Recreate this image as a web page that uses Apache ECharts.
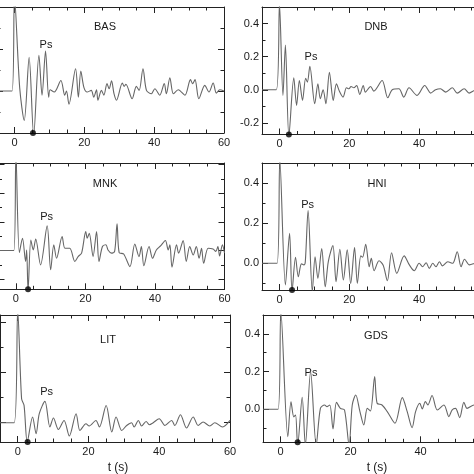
<!DOCTYPE html>
<html><head><meta charset="utf-8">
<script src="https://cdn.jsdelivr.net/npm/echarts@6/dist/echarts.min.js"></script>
<style>html,body{margin:0;padding:0;background:#fff}#c{width:474px;height:474px}</style>
</head><body><div id="c"></div>
<script>
// ---- data (t in s, amplitude) ----
const stationNames = ['BAS','DNB','MNK','HNI','LIT','GDS'];
const xTickLabels = [0,20,40,60];
const basTrace = [[-5,0],[-0.7,0],[0,0.45],[1.5,0.015],[2.8,-0.14],[4.2,0.16],[5.5,-0.21],[7.0,0.17],[7.9,-0.02],[8.9,0.19],[9.8,-0.03],[10.2,0.006],[11.4,-0.005],[13.3,0.05],[14.4,-0.02],[14.9,0],[15.6,-0.063],[17.5,0.106],[18.3,-0.03],[19.0,0.095],[19.9,0.016],[20.8,-0.005],[22.0,0.003],[22.7,-0.03],[23.5,0.006],[23.9,-0.044],[24.9,0.003],[25.6,-0.02],[26.5,0.035],[27.1,0.011],[27.8,0.048],[28.5,-0.013],[29.2,-0.044],[30.9,0.038],[31.4,0.022],[31.9,0.032],[33.7,-0.037],[34.9,0.022],[35.7,0.003],[36.8,0.106],[37.8,0.003],[39.2,-0.013],[40.2,0.011],[41.6,-0.02],[42.9,0.035],[43.5,-0.013],[44.5,0.063],[45.5,-0.013],[46.9,0.006],[48.8,-0.02],[50.4,0.054],[51.0,0.035],[51.7,0.054],[52.8,-0.037],[54.5,0.027],[55.7,-0.005],[56.9,0.038],[57.8,-0.01],[58.8,0.006],[60,0]];
const dnbTrace = [[-5,0],[-0.9,0],[0,0.52],[1.0,-0.034],[1.7,0.27],[2.7,-0.28],[4.1,0.072],[4.9,-0.094],[5.7,0.056],[6.6,-0.064],[7.5,0.07],[8.0,0.046],[8.7,0.142],[10.1,-0.084],[11.0,0.036],[11.7,-0.054],[12.5,0.0],[13.3,-0.084],[14.3,0.106],[15.4,-0.064],[16.3,0.036],[17.2,-0.01],[18.2,-0.044],[19.2,0.012],[19.9,0.006],[20.5,0.02],[21.3,0.012],[22.1,0.026],[23.0,-0.028],[24.0,0.026],[24.6,-0.014],[26.1,0.02],[27.0,-0.008],[29.4,0.056],[31.0,-0.048],[32.3,0],[34.2,0.006],[35.6,-0.044],[37.1,0.012],[39.4,-0.034],[41.6,0.026],[43.3,-0.02],[44.7,0],[46.1,0.006],[47.6,-0.014],[49.5,0.012],[50.9,-0.02],[52.9,0.006],[54.3,-0.02],[55.8,-0.004],[57.5,0.01],[60,0]];
const mnkTrace = [[-5,0],[-0.6,0],[0,0.34],[1.0,-0.007],[1.9,0.043],[2.8,-0.038],[3.1,0.002],[3.5,-0.14],[4.3,0.037],[5.0,0.002],[5.7,0.04],[7.1,-0.05],[9.0,0.086],[10.0,-0.067],[10.9,0.02],[11.7,-0.027],[13.3,0.049],[14.1,0.008],[15.5,0.008],[16.95,-0.038],[17.9,-0.021],[18.9,-0.009],[20.1,0.066],[20.5,0.043],[21.1,0.06],[22.2,-0.021],[23.2,0.066],[23.9,-0.038],[24.9,0.014],[25.9,0.02],[26.5,0.002],[27.5,-0.009],[28.4,-0.003],[29.1,0.093],[29.7,-0.007],[31.0,-0.012],[32.8,-0.056],[34.2,0.023],[35.4,-0.021],[36.1,0.014],[36.8,-0.053],[38.3,0.014],[39.3,-0.027],[40.4,0.002],[41.6,0.016],[43.0,0.035],[43.8,0.002],[44.3,0.02],[44.9,-0.058],[46.2,0.02],[46.8,-0.009],[48.1,0.035],[49.0,-0.038],[50.0,0.014],[51.0,-0.015],[51.9,0.014],[52.7,-0.027],[53.4,0.008],[54.0,-0.044],[55.3,0.008],[56.7,0.005],[57.5,-0.003],[58.1,0.014],[58.6,-0.019],[59.4,0.02],[60,-0.009]];
const hniTrace = [[-5,0],[-0.7,0],[0.1,0.52],[1.7,-0.108],[2.9,0.15],[3.6,-0.14],[4.6,0.03],[5.4,-0.067],[6.3,-0.003],[7.0,-0.008],[7.4,0.008],[8.2,0.263],[9.4,-0.14],[10.2,0.033],[11.0,-0.075],[12.1,0.073],[13.1,-0.117],[14.0,0.01],[15.3,0.088],[16.2,-0.092],[17.3,0.07],[18.3,-0.083],[19.4,0.067],[20.4,-0.1],[21.5,0.078],[22.3,-0.1],[23.3,0.037],[23.8,0.03],[24.7,0.095],[25.7,-0.017],[26.3,0.025],[27.1,-0.037],[28.5,0.013],[29.7,-0.01],[30.9,-0.087],[32.1,0.053],[33.6,-0.05],[35.7,0.037],[37.2,-0.008],[38.6,-0.037],[40.0,0],[41.0,-0.017],[42.0,0.003],[42.9,-0.025],[43.9,0],[44.8,-0.017],[45.8,0.008],[46.7,-0.013],[48.2,0.008],[49.6,0],[50.9,0.058],[52.0,-0.017],[53.0,0.02],[54.4,-0.008],[55.9,0],[57.5,0.01],[60,0]];
const litTrace = [[-5,0],[-1.0,0],[0,0.45],[1.1,0.096],[1.8,0.069],[2.7,-0.077],[4.2,0.023],[5.2,-0.044],[6.1,0.036],[7.7,0.085],[9.1,-0.017],[10.1,0.019],[11.5,-0.027],[13.1,0.009],[14.6,-0.053],[16.5,0.036],[17.6,-0.031],[19.3,-0.004],[20.2,-0.013],[22.1,0.009],[23.1,-0.017],[25.0,0.069],[26.6,-0.037],[27.8,0.023],[29.4,-0.031],[30.8,-0.011],[32.2,0],[32.9,-0.017],[34.1,0.009],[35.0,-0.013],[36.3,0.005],[37.2,-0.008],[38.3,0],[40.0,0.016],[41.6,-0.011],[43.5,0.009],[44.4,-0.011],[46.0,0.032],[47.7,-0.021],[49.6,0.023],[51.0,-0.011],[52.4,0.003],[54.3,-0.013],[55.7,0],[57.9,-0.017],[60,0.009]];
const gdsTrace = [[-5,0],[-0.7,0],[0.1,0.52],[2.1,-0.145],[3.0,0.04],[3.8,-0.04],[4.3,-0.03],[4.9,-0.19],[6.2,0.064],[7.1,-0.19],[8.6,0.2],[10.2,-0.19],[11.4,0.005],[12.6,0.023],[13.3,0.014],[14.1,0.023],[15.0,-0.104],[16.0,0.037],[17.1,0.005],[18.3,-0.004],[19.6,-0.19],[20.5,0.023],[21.5,0.076],[22.7,-0.012],[23.8,-0.083],[24.8,0.005],[25.7,-0.009],[26.9,0.173],[27.6,0.032],[29.0,0.023],[30.5,-0.012],[32.7,-0.074],[34.8,0.062],[36.2,-0.012],[37.6,-0.097],[38.6,-0.012],[39.8,0.032],[40.5,0.002],[41.4,0.041],[42.1,0.023],[43.3,0.073],[44.8,-0.004],[46.7,0.023],[48.1,-0.039],[49.0,-0.004],[50.0,0.005],[51.2,-0.044],[52.4,0.037],[53.3,0.005],[55.3,0.023],[57,0.0],[60,0.01]];
const dotTimes = [5.3, 2.7, 3.5, 3.6, 2.8, 4.9];
const yMins = [-0.2, -0.27, -0.135, -0.133, -0.077, -0.175];
const yMaxs = [0.4, 0.5, 0.305, 0.5, 0.43, 0.5];
const yMajorTicks = [[-0.2,0,0.2,0.4],[-0.2,0,0.2,0.4],[-0.1,0,0.1,0.2,0.3],[0,0.2,0.4],[0,0.2,0.4],[0,0.2,0.4]];
const yMinorTicks = [[-0.1,0.1,0.3],[-0.1,0.1,0.3],[-0.05,0.05,0.15,0.25],[-0.1,0.1,0.3,0.5],[0.1,0.3],[-0.1,0.1,0.3,0.5]];
const yLabelValues = [[],[-0.2,0,0.2,0.4],[],[0,0.2,0.4],[],[0,0.2,0.4]];
const traces = [basTrace, dnbTrace, mnkTrace, hniTrace, litTrace, gdsTrace];

// ---- layout ----
const gridRects = [
  {left:-3, top:7, width:227, height:126},
  {left:262, top:7, width:227, height:127.5},
  {left:-1.5, top:163, width:226, height:126.3},
  {left:262, top:163, width:227, height:127},
  {left:0, top:315, width:230, height:127},
  {left:263, top:315, width:227.5, height:127.3}
];
const namePos = [[105,27],[376,27],[105,183.5],[377,183.5],[108,340],[376,336]];
const psPos = [[46,45],[311,57.3],[46.7,216.7],[307.7,205],[46.7,392.3],[311,373.3]];
const FONT = '"Liberation Sans", Arial, Helvetica, sans-serif';
const AX = '#222';
const minorX = []; for (let v=-5; v<=60; v+=5) if (xTickLabels.indexOf(v)<0) minorX.push(v);

const grid=[], xAxis=[], yAxis=[], series=[], graphic=[];
stationNames.forEach((nm,i)=>{
  grid.push(Object.assign({outerBoundsMode:'none', containLabel:false}, gridRects[i]));
  const xb = {type:'value', gridIndex:i, min:-5, max:60, splitLine:{show:false}};
  const xLine = {show:true, onZero:false, lineStyle:{color:AX, width:1}};
  xAxis.push(Object.assign({}, xb, {position:'bottom', axisLine:xLine,
    axisTick:{inside:true, length:6, customValues:xTickLabels, lineStyle:{color:AX}},
    axisLabel:{customValues:xTickLabels, margin:4, fontSize:11, color:'#1a1a1a', fontFamily:FONT}}));
  xAxis.push(Object.assign({}, xb, {position:'bottom', axisLine:{show:false, onZero:false},
    axisTick:{inside:true, length:3.5, customValues:minorX, lineStyle:{color:AX}}, axisLabel:{show:false}}));
  xAxis.push(Object.assign({}, xb, {position:'top', axisLine:xLine,
    axisTick:{inside:true, length:6, customValues:xTickLabels, lineStyle:{color:AX}}, axisLabel:{show:false}}));
  xAxis.push(Object.assign({}, xb, {position:'top', axisLine:{show:false, onZero:false},
    axisTick:{inside:true, length:3.5, customValues:minorX, lineStyle:{color:AX}}, axisLabel:{show:false}}));
  const yb = {type:'value', gridIndex:i, min:yMins[i], max:yMaxs[i], splitLine:{show:false}};
  const yLine = {show:true, onZero:false, lineStyle:{color:AX, width:1}};
  const hasLab = yLabelValues[i].length>0;
  yAxis.push(Object.assign({}, yb, {position:'left', axisLine:yLine,
    axisTick:{inside:true, length:6, customValues:yMajorTicks[i], lineStyle:{color:AX}},
    axisLabel: hasLab ? {customValues:yLabelValues[i], margin:3, fontSize:11, color:'#1a1a1a', fontFamily:FONT,
      formatter:v=>(Math.abs(v)<1e-9?0:v).toFixed(1)} : {show:false}}));
  yAxis.push(Object.assign({}, yb, {position:'left', axisLine:{show:false, onZero:false},
    axisTick:{inside:true, length:3.5, customValues:yMinorTicks[i], lineStyle:{color:AX}}, axisLabel:{show:false}}));
  yAxis.push(Object.assign({}, yb, {position:'right', axisLine:yLine,
    axisTick:{inside:true, length:6, customValues:yMajorTicks[i], lineStyle:{color:AX}}, axisLabel:{show:false}}));
  yAxis.push(Object.assign({}, yb, {position:'right', axisLine:{show:false, onZero:false},
    axisTick:{inside:true, length:3.5, customValues:yMinorTicks[i], lineStyle:{color:AX}}, axisLabel:{show:false}}));

  series.push({type:'line', xAxisIndex:4*i, yAxisIndex:4*i, data:traces[i], showSymbol:false, smooth:0.3,
    clip:true, lineStyle:{color:'#666', width:1.1}, animation:false, z:2});
  series.push({type:'scatter', xAxisIndex:4*i, yAxisIndex:4*i, data:[[dotTimes[i], yMins[i]]], symbolSize:6,
    itemStyle:{color:'#000'}, clip:false, animation:false, z:5});

  graphic.push({type:'text', x:namePos[i][0], y:namePos[i][1], style:{text:nm, font:'11px '+FONT, fill:'#1a1a1a', align:'center', verticalAlign:'middle'}});
  graphic.push({type:'text', x:psPos[i][0], y:psPos[i][1], style:{text:'Ps', font:'11px '+FONT, fill:'#1a1a1a', align:'center', verticalAlign:'middle'}});
});
graphic.push({type:'text', x:118, y:467.7, style:{text:'t (s)', font:'12px '+FONT, fill:'#1a1a1a', align:'center', verticalAlign:'middle'}});
graphic.push({type:'text', x:377, y:467.7, style:{text:'t (s)', font:'12px '+FONT, fill:'#1a1a1a', align:'center', verticalAlign:'middle'}});

const chart = echarts.init(document.getElementById('c'), null, {renderer:'canvas'});
chart.setOption({animation:false, backgroundColor:'#fff', grid, xAxis, yAxis, series, graphic});
</script></body></html>
